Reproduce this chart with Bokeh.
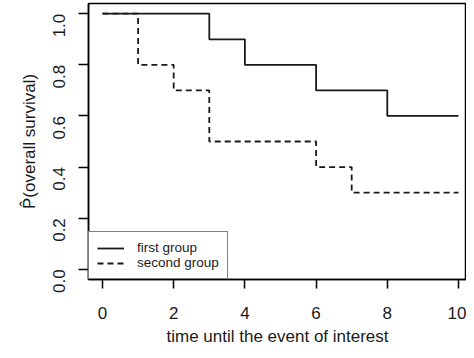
import math
from bokeh.plotting import figure
from bokeh.models import FixedTicker, PrintfTickFormatter, Legend, LegendItem, Range1d
from bokeh.embed import file_html
from bokeh.resources import INLINE

# Kaplan-Meier style step data
time_first = [0, 3, 4, 6, 8, 10]
surv_first = [1.0, 0.9, 0.8, 0.7, 0.6, 0.6]
time_second = [0, 1, 2, 3, 6, 7, 10]
surv_second = [1.0, 0.8, 0.7, 0.5, 0.4, 0.3, 0.3]
x_ticks = [0, 2, 4, 6, 8, 10]
y_ticks = [0.0, 0.2, 0.4, 0.6, 0.8, 1.0]
series_names = ["first group", "second group"]

FONT = "Liberation Sans"

p = figure(width=466, height=350, output_backend="svg", toolbar_location=None,
           x_range=Range1d(-0.393, 10.225), y_range=Range1d(-0.04, 1.04),
           min_border_left=88, min_border_right=0, min_border_top=3, min_border_bottom=71)
p.outline_line_color = "black"
p.outline_line_width = 1.5
p.xgrid.grid_line_color = None
p.ygrid.grid_line_color = None
p.background_fill_color = "white"

r1 = p.step(time_first, surv_first, mode="after", line_color="#1a1a1a", line_width=1.8)
r2 = p.step(time_second, surv_second, mode="after", line_color="#1a1a1a", line_width=1.8,
            line_dash="6 4")

for ax in (p.xaxis[0], p.yaxis[0]):
    ax.axis_line_color = "black"
    ax.axis_line_width = 1.5
    ax.major_tick_line_color = "black"
    ax.major_tick_line_width = 1.5
    ax.major_tick_in = 0
    ax.minor_tick_line_color = None
    ax.major_label_text_font = FONT
    ax.major_label_text_font_size = "17px"
    ax.major_label_text_color = "#1a1a1a"
    ax.axis_label_text_font = FONT
    ax.axis_label_text_font_size = "17px"
    ax.axis_label_text_font_style = "normal"
    ax.axis_label_text_color = "#1a1a1a"

p.xaxis.ticker = FixedTicker(ticks=x_ticks)
p.xaxis.major_tick_out = 9
p.xaxis.major_label_standoff = 18
p.xaxis.axis_label = "time until the event of interest"
p.xaxis.axis_label_standoff = 5

p.yaxis.ticker = FixedTicker(ticks=y_ticks)
p.yaxis.formatter = PrintfTickFormatter(format="%.1f")
p.yaxis.major_tick_out = 10
p.yaxis.major_label_orientation = math.pi / 2
p.yaxis.major_label_standoff = 19
p.yaxis.axis_label = "P\u0302(overall survival)"
p.yaxis.axis_label_standoff = 6

legend = Legend(items=[LegendItem(label=series_names[0], renderers=[r1]),
                       LegendItem(label=series_names[1], renderers=[r2])],
                location="bottom_left", margin=0, padding=8, spacing=0,
                glyph_width=27, glyph_height=12, label_height=12, label_standoff=13,
                border_line_color="black", border_line_width=1.5,
                background_fill_color="white", background_fill_alpha=1.0,
                label_text_font=FONT, label_text_font_size="13.5px",
                label_text_color="#1a1a1a")
p.add_layout(legend)

open("out.html", "w").write(file_html(p, INLINE))
